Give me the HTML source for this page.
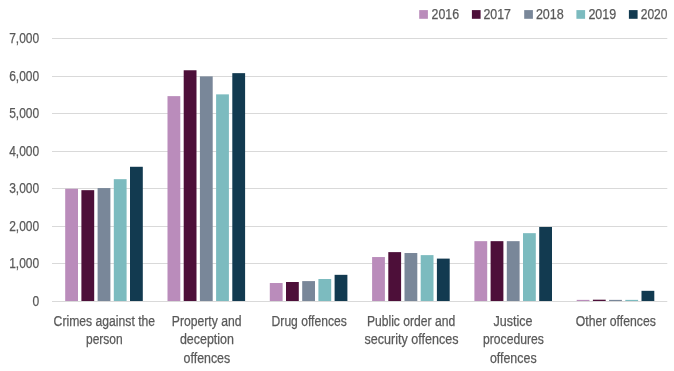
<!DOCTYPE html>
<html><head><meta charset="utf-8"><style>
html,body{margin:0;padding:0;background:#fff;width:674px;height:371px;overflow:hidden}
svg{display:block}
.tx{filter:blur(0.01px)}
.t{font-family:"Liberation Sans",sans-serif;font-size:14px;fill:#595959;stroke:#595959;stroke-width:0.25px}
</style></head><body>
<svg width="674" height="371" viewBox="0 0 674 371">
<rect width="674" height="371" fill="#fff"/>
<rect x="52" y="301" width="615.3" height="1" fill="#D9D9D9"/>
<rect x="52" y="263" width="615.3" height="1" fill="#D9D9D9"/>
<rect x="52" y="226" width="615.3" height="1" fill="#D9D9D9"/>
<rect x="52" y="188" width="615.3" height="1" fill="#D9D9D9"/>
<rect x="52" y="151" width="615.3" height="1" fill="#D9D9D9"/>
<rect x="52" y="113" width="615.3" height="1" fill="#D9D9D9"/>
<rect x="52" y="76" width="615.3" height="1" fill="#D9D9D9"/>
<rect x="52" y="38" width="615.3" height="1" fill="#D9D9D9"/>
<rect x="65.20" y="188.78" width="12.8" height="112.22" fill="#BA8CBB"/>
<rect x="81.40" y="190.17" width="12.8" height="110.83" fill="#4D0F39"/>
<rect x="97.60" y="188.07" width="12.8" height="112.93" fill="#798799"/>
<rect x="113.80" y="179.17" width="12.8" height="121.83" fill="#7CBBBF"/>
<rect x="130.00" y="166.78" width="12.8" height="134.22" fill="#123A50"/>
<rect x="167.50" y="96.13" width="12.8" height="204.87" fill="#BA8CBB"/>
<rect x="183.70" y="70.26" width="12.8" height="230.74" fill="#4D0F39"/>
<rect x="199.90" y="76.38" width="12.8" height="224.62" fill="#798799"/>
<rect x="216.10" y="94.36" width="12.8" height="206.64" fill="#7CBBBF"/>
<rect x="232.30" y="73.15" width="12.8" height="227.85" fill="#123A50"/>
<rect x="269.80" y="283.02" width="12.8" height="17.98" fill="#BA8CBB"/>
<rect x="286.00" y="282.00" width="12.8" height="19.00" fill="#4D0F39"/>
<rect x="302.20" y="281.10" width="12.8" height="19.90" fill="#798799"/>
<rect x="318.40" y="279.00" width="12.8" height="22.00" fill="#7CBBBF"/>
<rect x="334.60" y="274.83" width="12.8" height="26.17" fill="#123A50"/>
<rect x="372.10" y="257.04" width="12.8" height="43.96" fill="#BA8CBB"/>
<rect x="388.30" y="252.12" width="12.8" height="48.88" fill="#4D0F39"/>
<rect x="404.50" y="253.02" width="12.8" height="47.98" fill="#798799"/>
<rect x="420.70" y="255.12" width="12.8" height="45.88" fill="#7CBBBF"/>
<rect x="436.90" y="258.61" width="12.8" height="42.39" fill="#123A50"/>
<rect x="474.40" y="241.16" width="12.8" height="59.84" fill="#BA8CBB"/>
<rect x="490.60" y="241.16" width="12.8" height="59.84" fill="#4D0F39"/>
<rect x="506.80" y="241.16" width="12.8" height="59.84" fill="#798799"/>
<rect x="523.00" y="233.16" width="12.8" height="67.84" fill="#7CBBBF"/>
<rect x="539.20" y="226.97" width="12.8" height="74.03" fill="#123A50"/>
<rect x="576.70" y="299.87" width="12.8" height="1.13" fill="#BA8CBB"/>
<rect x="592.90" y="299.69" width="12.8" height="1.31" fill="#4D0F39"/>
<rect x="609.10" y="299.87" width="12.8" height="1.13" fill="#798799"/>
<rect x="625.30" y="299.87" width="12.8" height="1.13" fill="#7CBBBF"/>
<rect x="641.50" y="290.83" width="12.8" height="10.17" fill="#123A50"/>
<rect x="419.2" y="10.1" width="8.7" height="8.7" fill="#BA8CBB"/>
<rect x="471.9" y="10.1" width="8.7" height="8.7" fill="#4D0F39"/>
<rect x="524.2" y="10.1" width="8.7" height="8.7" fill="#798799"/>
<rect x="576.4" y="10.1" width="8.7" height="8.7" fill="#7CBBBF"/>
<rect x="628.9" y="10.1" width="8.7" height="8.7" fill="#123A50"/>
<g class="tx"><text x="32.50" y="305.80" textLength="6.70" lengthAdjust="spacingAndGlyphs" class="t">0</text>
<text x="9.20" y="268.26" textLength="30.00" lengthAdjust="spacingAndGlyphs" class="t">1,000</text>
<text x="9.20" y="230.71" textLength="30.00" lengthAdjust="spacingAndGlyphs" class="t">2,000</text>
<text x="9.20" y="193.17" textLength="30.00" lengthAdjust="spacingAndGlyphs" class="t">3,000</text>
<text x="9.20" y="155.63" textLength="30.00" lengthAdjust="spacingAndGlyphs" class="t">4,000</text>
<text x="9.20" y="118.09" textLength="30.00" lengthAdjust="spacingAndGlyphs" class="t">5,000</text>
<text x="9.20" y="80.54" textLength="30.00" lengthAdjust="spacingAndGlyphs" class="t">6,000</text>
<text x="9.20" y="43.00" textLength="30.00" lengthAdjust="spacingAndGlyphs" class="t">7,000</text>
<text x="431.60" y="18.50" textLength="27.50" lengthAdjust="spacingAndGlyphs" class="t">2016</text>
<text x="483.40" y="18.50" textLength="27.60" lengthAdjust="spacingAndGlyphs" class="t">2017</text>
<text x="535.90" y="18.50" textLength="27.90" lengthAdjust="spacingAndGlyphs" class="t">2018</text>
<text x="588.40" y="18.50" textLength="27.80" lengthAdjust="spacingAndGlyphs" class="t">2019</text>
<text x="640.70" y="18.50" textLength="26.80" lengthAdjust="spacingAndGlyphs" class="t">2020</text>
<text x="53.60" y="325.90" textLength="101.50" lengthAdjust="spacingAndGlyphs" class="t">Crimes against the</text>
<text x="86.00" y="344.20" textLength="36.70" lengthAdjust="spacingAndGlyphs" class="t">person</text>
<text x="171.80" y="325.90" textLength="69.70" lengthAdjust="spacingAndGlyphs" class="t">Property and</text>
<text x="179.90" y="344.20" textLength="54.00" lengthAdjust="spacingAndGlyphs" class="t">deception</text>
<text x="183.60" y="362.50" textLength="46.60" lengthAdjust="spacingAndGlyphs" class="t">offences</text>
<text x="271.60" y="325.90" textLength="75.20" lengthAdjust="spacingAndGlyphs" class="t">Drug offences</text>
<text x="366.90" y="325.90" textLength="88.30" lengthAdjust="spacingAndGlyphs" class="t">Public order and</text>
<text x="364.50" y="344.20" textLength="93.90" lengthAdjust="spacingAndGlyphs" class="t">security offences</text>
<text x="493.60" y="325.90" textLength="39.00" lengthAdjust="spacingAndGlyphs" class="t">Justice</text>
<text x="483.00" y="344.20" textLength="60.90" lengthAdjust="spacingAndGlyphs" class="t">procedures</text>
<text x="489.90" y="362.50" textLength="46.70" lengthAdjust="spacingAndGlyphs" class="t">offences</text>
<text x="575.70" y="325.90" textLength="80.20" lengthAdjust="spacingAndGlyphs" class="t">Other offences</text></g>
</svg>
</body></html>
